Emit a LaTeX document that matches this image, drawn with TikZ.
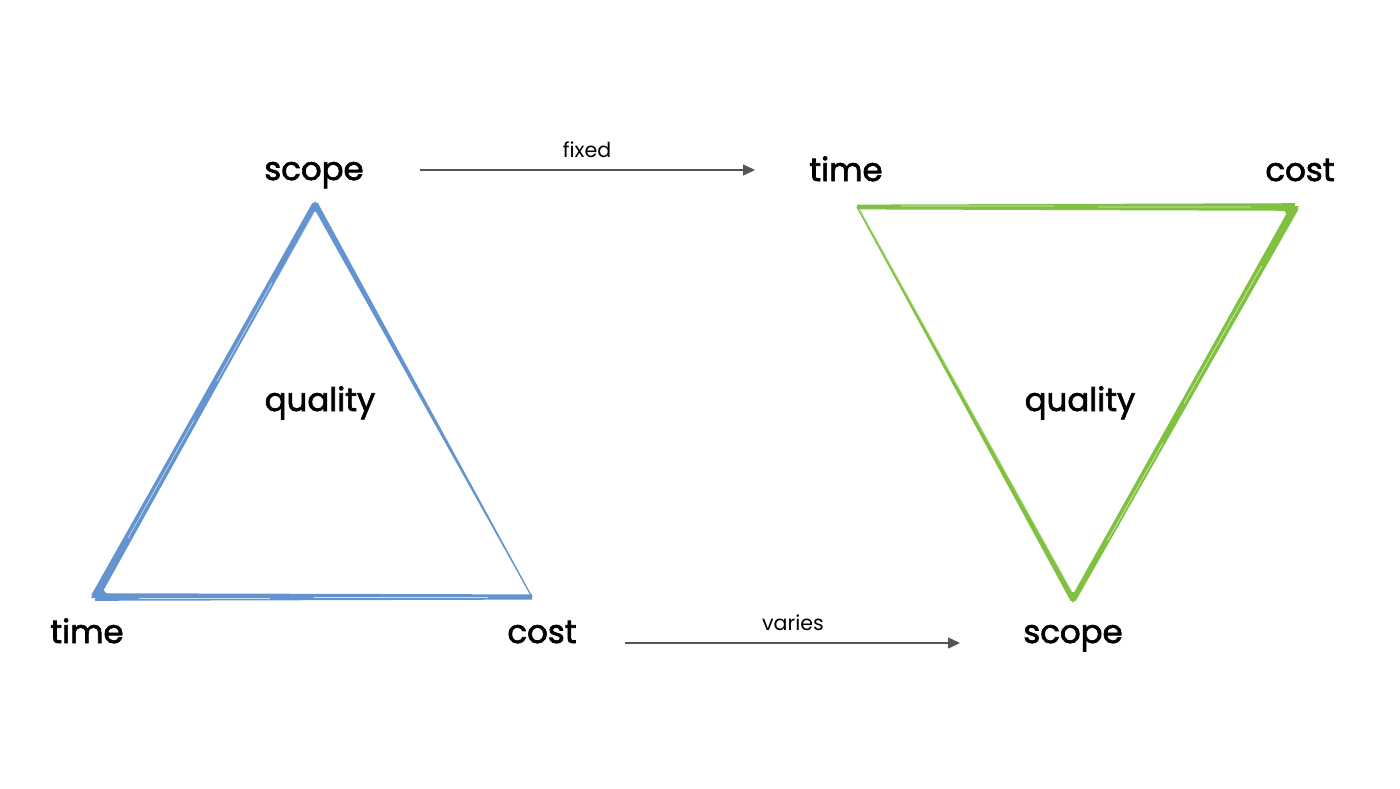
\documentclass[tikz,border=0pt]{standalone}
\usepackage{fontspec}
\setmainfont{Poppins}
\newfontfamily\lblfont{Poppins}[FakeBold=2]
\usetikzlibrary{calc,arrows.meta}
\definecolor{tblue}{RGB}{99,148,207}
\definecolor{tgreen}{RGB}{128,193,66}
\definecolor{arr}{RGB}{85,85,85}
\newcommand\taperseg[5]{%
  \fill[#1] ($(#2)!#4!90:(#3)$) -- ($(#3)!#5!-90:(#2)$) -- ($(#3)!#5!90:(#2)$) -- ($(#2)!#4!-90:(#3)$) -- cycle;}
\begin{document}
\begin{tikzpicture}[x=0.5pt,y=-0.5pt,
  lbl/.style={font=\lblfont\fontsize{16.2}{19}\selectfont, text=black, inner sep=0pt, anchor=base},
  small/.style={font=\fontsize{10.3}{12}\selectfont, text=black, inner sep=0pt, anchor=base},
  conn/.style={draw=arr, line width=0.7pt, -{Triangle[length=6pt,width=5.5pt]}},
  jit/.style={line width=0.4pt, opacity=0.6},
  gap/.style={draw=white, line width=0.3pt, opacity=0.7}]
\useasboundingbox (0,0) rectangle (1400,788);
\fill[white] (0,0) rectangle (1400,788);

% blue triangle
\coordinate (bA) at (315,204);
\coordinate (bL) at (95,597);
\coordinate (bR) at (532,597);
\taperseg{tblue}{bL}{bA}{2.1pt}{1.4pt}
\taperseg{tblue}{bL}{bR}{1.9pt}{1.3pt}
\taperseg{tblue}{bA}{bR}{1.5pt}{0.25pt}
\fill[tblue] (bL) ++(-4,1) -- ++(18,-1) -- ++(-10,-13) -- cycle;
\fill[tblue] (bA) ++(0,-3) -- ++(6,10) -- ++(-11,1) -- cycle;
\draw[tblue,jit] ($(bL)+(4,-3)$) -- ($(bA)+(1,5)$);
\draw[tblue,jit] ($(bA)+(2,4)$) -- ($(bR)+(-2,-3)$);
\draw[gap] ($(bL)!0.15!(bA)$) -- ($(bL)!0.45!(bA)$);
\draw[gap] ($(bL)!0.55!(bA)+(1,0)$) -- ($(bL)!0.8!(bA)+(1,0)$);
\draw[gap] ($(bL)!0.1!(bR)+(0,1)$) -- ($(bL)!0.4!(bR)+(0,1)$);
\draw[gap] ($(bL)!0.5!(bR)$) -- ($(bL)!0.9!(bR)$);

% green triangle
\coordinate (gL) at (857,207);
\coordinate (gR) at (1295,207);
\coordinate (gB) at (1073,600);
\taperseg{tgreen}{gL}{gR}{1.2pt}{1.9pt}
\taperseg{tgreen}{gR}{gB}{2.1pt}{1.4pt}
\taperseg{tgreen}{gL}{gB}{0.3pt}{1.3pt}
\fill[tgreen] (gR) ++(4,-1) -- ++(-18,0) -- ++(9,13) -- cycle;
\fill[tgreen] (gB) ++(0,3) -- ++(-6,-11) -- ++(11,0) -- cycle;
\draw[tgreen,jit] ($(gL)+(3,3)$) -- ($(gB)+(0,-6)$);
\draw[tgreen,jit] ($(gR)+(-5,3)$) -- ($(gB)+(1,-5)$);
\draw[gap] ($(gL)!0.1!(gR)+(0,-1)$) -- ($(gL)!0.45!(gR)+(0,-1)$);
\draw[gap] ($(gL)!0.55!(gR)$) -- ($(gL)!0.9!(gR)$);
\draw[gap] ($(gR)!0.15!(gB)$) -- ($(gR)!0.5!(gB)$);
\draw[gap] ($(gR)!0.6!(gB)+(1,0)$) -- ($(gR)!0.85!(gB)+(1,0)$);

% labels
\node[lbl] (bscope) at (314,180) {scope};
\node[lbl] (btime) at (87,643) {time};
\node[lbl] (bcost) at (542,643) {cost};
\node[lbl] (bqual) at (320,411) {quality};
\node[lbl] (gtime) at (846,181) {time};
\node[lbl] (gcost) at (1300,181) {cost};
\node[lbl] (gqual) at (1080,411) {quality};
\node[lbl] (gscope) at (1073,643) {scope};

% arrows
\coordinate (f1) at (420,170);
\coordinate (f2) at (755,170);
\coordinate (v1) at (625,643);
\coordinate (v2) at (960,643);
\draw[conn] (f1) -- (f2);
\draw[conn] (v1) -- (v2);
\node[small] (lfixed) at (587,157) {fixed};
\node[small] (lvaries) at (793,630) {varies};
\end{tikzpicture}
\end{document}
